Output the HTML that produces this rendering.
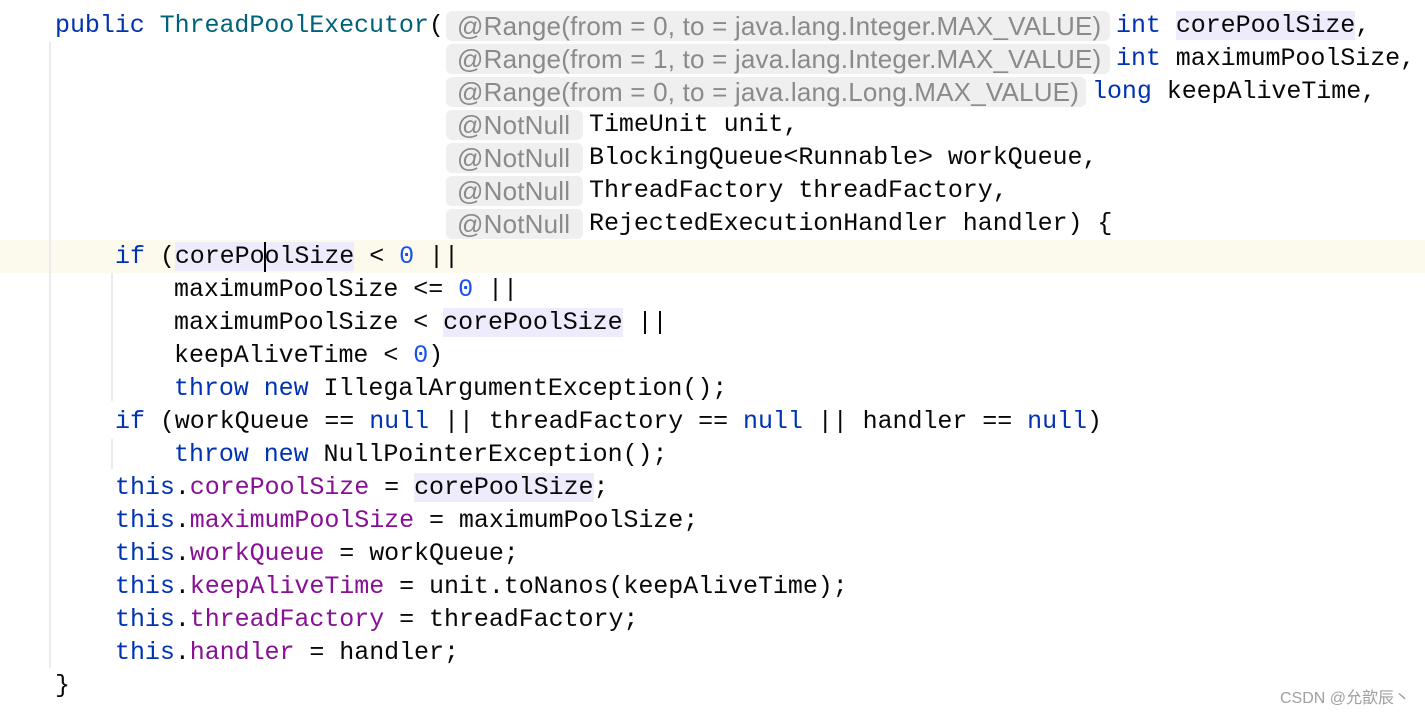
<!DOCTYPE html>
<html><head><meta charset="utf-8"><style>
html,body{margin:0;padding:0;background:#fff;width:1425px;height:714px;overflow:hidden;position:relative}
.l{position:absolute;height:33px;line-height:33px;font-family:"Liberation Mono",monospace;font-size:25px;color:#080808;white-space:pre;letter-spacing:-0.05px}
.k{color:#0033b3}.c{color:#00627a}.n{color:#1750eb}.f{color:#871094}
.hl{background:#edebfc}
.h{position:absolute;left:446px;height:30px;line-height:30px;background:#efefef;border-radius:6px;font-family:"Liberation Sans",sans-serif;font-size:26px;color:#8a8a8a;white-space:pre;padding-left:11px;box-sizing:border-box;overflow:hidden;letter-spacing:0.2px}
.g{position:absolute;width:2px;background:#ebebeb}
</style></head><body>
<div style="position:absolute;left:0;top:240px;width:1425px;height:33px;background:#fcfaed"></div>
<div class="g" style="left:49px;top:42px;height:626px"></div>
<div class="g" style="left:111px;top:273px;height:128px"></div>
<div class="g" style="left:111px;top:439px;height:30px"></div>

<div class="l" style="left:55px;top:9px"><span class="k">public</span> <span class="c">ThreadPoolExecutor</span>(</div>
<div class="h" style="top:11px;width:664px">@Range(from = 0, to = java.lang.Integer.MAX_VALUE)</div>
<div class="l" style="left:1116px;top:9px"><span class="k">int</span> <span class="hl">corePoolSize</span>,</div>
<div class="h" style="top:44px;width:664px">@Range(from = 1, to = java.lang.Integer.MAX_VALUE)</div>
<div class="l" style="left:1116px;top:42px"><span class="k">int</span> maximumPoolSize,</div>
<div class="h" style="top:77px;width:640px">@Range(from = 0, to = java.lang.Long.MAX_VALUE)</div>
<div class="l" style="left:1092px;top:75px"><span class="k">long</span> keepAliveTime,</div>
<div class="h" style="top:110px;width:137px">@NotNull</div>
<div class="l" style="left:589px;top:108px">TimeUnit unit,</div>
<div class="h" style="top:143px;width:137px">@NotNull</div>
<div class="l" style="left:589px;top:141px">BlockingQueue&lt;Runnable&gt; workQueue,</div>
<div class="h" style="top:176px;width:137px">@NotNull</div>
<div class="l" style="left:589px;top:174px">ThreadFactory threadFactory,</div>
<div class="h" style="top:209px;width:137px">@NotNull</div>
<div class="l" style="left:589px;top:207px">RejectedExecutionHandler handler) {</div>

<div class="l" style="left:115px;top:240px"><span class="k">if</span> (<span class="hl">corePoolSize</span> &lt; <span class="n">0</span> ||</div>
<div style="position:absolute;left:264px;top:242px;width:2px;height:30px;background:#000"></div>
<div class="l" style="left:174px;top:273px">maximumPoolSize &lt;= <span class="n">0</span> ||</div>
<div class="l" style="left:174px;top:306px">maximumPoolSize &lt; <span class="hl">corePoolSize</span> ||</div>
<div class="l" style="left:174px;top:339px">keepAliveTime &lt; <span class="n">0</span>)</div>
<div class="l" style="left:174px;top:372px"><span class="k">throw new</span> IllegalArgumentException();</div>
<div class="l" style="left:115px;top:405px"><span class="k">if</span> (workQueue == <span class="k">null</span> || threadFactory == <span class="k">null</span> || handler == <span class="k">null</span>)</div>
<div class="l" style="left:174px;top:438px"><span class="k">throw new</span> NullPointerException();</div>
<div class="l" style="left:115px;top:471px"><span class="k">this</span>.<span class="f">corePoolSize</span> = <span class="hl">corePoolSize</span>;</div>
<div class="l" style="left:115px;top:504px"><span class="k">this</span>.<span class="f">maximumPoolSize</span> = maximumPoolSize;</div>
<div class="l" style="left:115px;top:537px"><span class="k">this</span>.<span class="f">workQueue</span> = workQueue;</div>
<div class="l" style="left:115px;top:570px"><span class="k">this</span>.<span class="f">keepAliveTime</span> = unit.toNanos(keepAliveTime);</div>
<div class="l" style="left:115px;top:603px"><span class="k">this</span>.<span class="f">threadFactory</span> = threadFactory;</div>
<div class="l" style="left:115px;top:636px"><span class="k">this</span>.<span class="f">handler</span> = handler;</div>
<div class="l" style="left:55px;top:669px">}</div>

<div style="position:absolute;left:1280px;top:684px;font-family:'Liberation Sans','Noto Sans CJK SC',sans-serif;font-size:16px;color:#a0a0a0;white-space:pre">CSDN @允歆辰丶</div>
</body></html>
